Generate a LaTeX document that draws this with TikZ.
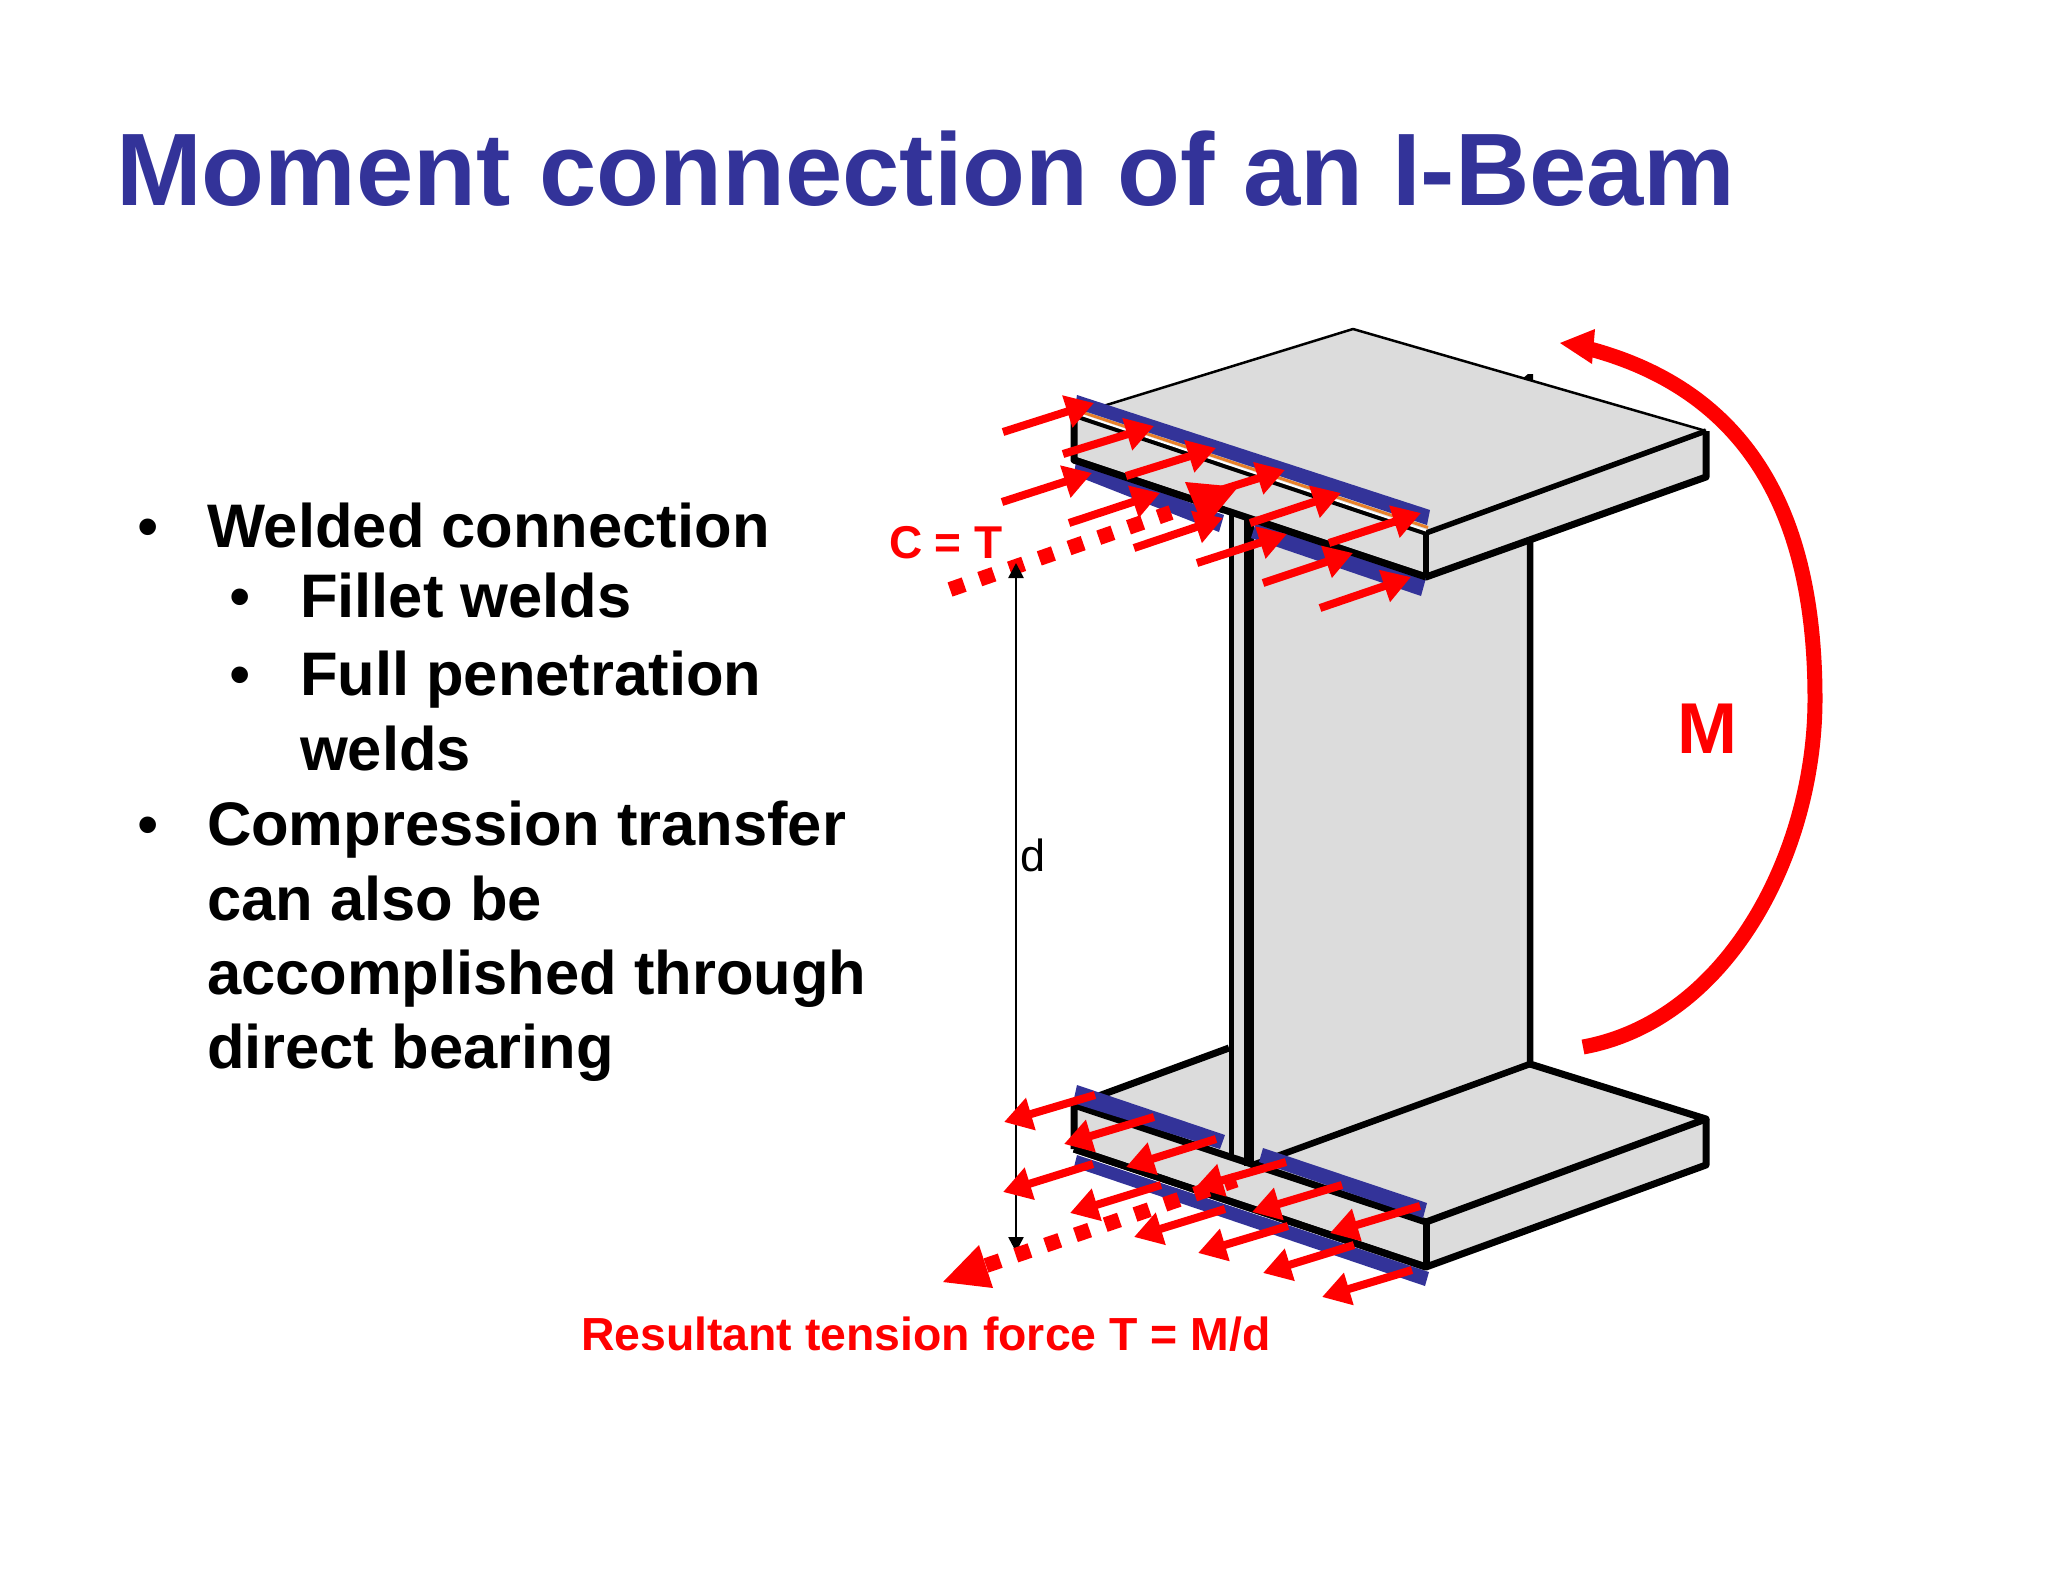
\documentclass[tikz,border=0pt]{standalone}
\usepackage{fontspec}
\setmainfont{Liberation Sans}
\usetikzlibrary{arrows.meta}
\definecolor{titleblue}{HTML}{333399}
\definecolor{weldblue}{HTML}{333399}
\definecolor{steel}{HTML}{DCDCDC}
\definecolor{forcered}{HTML}{FF0000}
\definecolor{weldorange}{HTML}{E8802A}
\tikzset{
  thinedge/.style={draw=black,line width=2.5pt,line join=round},
  thickedge/.style={draw=black,line width=7pt,line join=round},
  steelface/.style={fill=steel},
  weldstrip/.style={fill=weldblue},
  force/.style={draw=forcered,line width=8pt,-{Triangle[length=28pt,width=32pt]}},
  dots/.style={draw=forcered,line width=15pt,dash pattern=on 15pt off 16.5pt},
  bighead/.style={fill=forcered},
  txt/.style={anchor=base west,inner sep=0pt,outer sep=0pt},
  body/.style={txt,font=\fontsize{61.5}{61.5}\selectfont\bfseries},
  bul/.style={anchor=base,inner sep=0pt,outer sep=0pt,font=\fontsize{61}{61}\selectfont},
}
\begin{document}
\begin{tikzpicture}[x=1pt,y=-1pt]
\useasboundingbox (0,0) rectangle (2048,1582);
% text
\node[txt,text=titleblue,font=\fontsize{103}{103}\selectfont\bfseries] (title) at (116,205) {Moment connection of an I-Beam};
\node[bul] (b1) at (148,547) {•};
\node[body] (l1) at (207,547) {Welded connection};
\node[bul] (b2) at (240,617) {•};
\node[body] (l2) at (300,617) {Fillet welds};
\node[bul] (b3) at (240,695) {•};
\node[body] (l3) at (300,695) {Full penetration};
\node[body] (l4) at (300,770) {welds};
\node[bul] (b4) at (148,845) {•};
\node[body] (l5) at (207,845) {Compression transfer};
\node[body] (l6) at (207,920) {can also be};
\node[body] (l7) at (207,994) {accomplished through};
\node[body] (l8) at (207,1068) {direct bearing};
% corners
\coordinate (ta) at (1353,329);
\coordinate (tr) at (1706,431);
\coordinate (trb) at (1706,477);
\coordinate (tf) at (1426,533);
\coordinate (tfb) at (1426,577);
\coordinate (tl) at (1074,415);
\coordinate (tlb) at (1074,460);
\coordinate (bl) at (1074,1105);
\coordinate (blb) at (1074,1149);
\coordinate (bf) at (1426,1222);
\coordinate (bfb) at (1426,1267);
\coordinate (br) at (1706,1119);
\coordinate (brb) at (1706,1165);
\coordinate (bk) at (1530,1064);
\coordinate (bwl) at (1229,1048);
% bottom flange
\path[steelface] (bl)--(bwl)--(bk)--(br)--(brb)--(bfb)--(blb)--cycle;
\draw[thickedge] (blb)--(bl)--(bwl);
\draw[thickedge] (bk)--(br)--(bf);
\draw[thickedge] (br)--(brb)--(bfb)--(blb);
\draw[thickedge] (bf)--(bfb);
% web
\path[steelface] (1229,500)--(1530,530)--(bk)--(1253,1165)--(1229,1157)--cycle;
\draw[draw=black,line width=5.5pt] (1231.5,505)--(1231.5,1157);
\draw[draw=black,line width=10pt] (1249,505)--(1249,1166);
\draw[draw=black,line width=6.5pt] (1530,530)--(bk)--(1250,1166);
\draw[thickedge] (bl)--(bf);
% nub behind top flange
\fill[black] (1522,379)--(1528,374)--(1533,374)--(1533,383)--cycle;
% top flange
\path[steelface] (tl)--(ta)--(tr)--(trb)--(tfb)--(tlb)--cycle;
\draw[thinedge] (tl)--(ta)--(tr);
\draw[thickedge] (tr)--(trb)--(tfb)--(tlb)--(tl);
\draw[draw=black,line width=5.5pt] (tl)--(tf)--(tr);
\draw[draw=black,line width=5.5pt] (tf)--(tfb);
% welds, top
\draw[draw=white,line width=2pt] (1077,413.5)--(1426,530.5);
\draw[draw=weldorange,line width=3pt] (1077,410.5)--(1428,527.5);
\path[weldstrip] (1077,395)--(1430,510)--(1427,525)--(1075,408)--cycle;
\path[weldstrip] (1076,461)--(1224,515)--(1219,532)--(1074,475)--cycle;
\path[weldstrip] (1256,522)--(1426,578)--(1421,596)--(1251,538)--cycle;
\draw[thickedge] (tlb)--(1224,510);
\draw[thickedge] (1255,520)--(tfb);
% dimension d, its upper tip over the dots of the upper resultant
\draw[dots] (950,589.5)--(1171,512.5);
\coordinate (dtop) at (1016,563);
\coordinate (dbot) at (1016,1252);
\draw[draw=black,line width=2.5pt,{Triangle[length=15pt,width=15pt]}-{Triangle[length=15pt,width=15pt]}] (dtop)--(dbot);
\node[txt,font=\fontsize{45}{45}\selectfont] (dlabel) at (1020,871) {d};
% welds, bottom
\path[weldstrip] (1077,1085)--(1225,1135)--(1220,1149)--(1073,1103)--cycle;
\path[weldstrip] (1263,1148)--(1427,1203)--(1423,1218)--(1259,1162)--cycle;
\path[weldstrip] (1077,1155)--(1429,1272)--(1425,1286)--(1074,1167)--cycle;
\draw[thickedge] (blb)--(bfb);
% top force arrows
\foreach \xa/\ya/\xb/\yb in {
  1003/432/1094/403, 1063/454/1154/426, 1126/476/1216/448,
  1195/498/1285/470, 1250/523/1341/493, 1329/543/1421/513,
  1002/502/1092/473, 1069/523/1160/493, 1134/548/1223/518,
  1197/563/1287/534, 1263/583/1353/553, 1320/608/1411/577}
  \draw[force] (\xa,\ya)--(\xb,\yb);
\path[bighead] (1185,482)--(1238,487)--(1204,528)--cycle;
% bottom force arrows
\foreach \xa/\ya/\xb/\yb in {
  1095/1095/1004/1122, 1154/1117/1064/1144, 1216/1139/1126/1167,
  1286/1162/1195/1188, 1342/1185/1252/1212, 1420/1206/1330/1233,
  1093/1164/1003/1192, 1161/1185/1070/1213, 1225/1209/1134/1237,
  1288/1226/1198/1253, 1354/1245/1263/1273, 1412/1270/1322/1297}
  \draw[force] (\xa,\ya)--(\xb,\yb);
\draw[dots] (986,1265.5)--(1236,1180);
\path[bighead] (943,1282)--(979,1245)--(993,1288)--cycle;
% moment arc
\draw[draw=forcered,line width=15pt] (1583,1047) .. controls (1730,1020) and (1815,850) .. (1815,699) .. controls (1815,530) and (1760,395) .. (1590,349);
\path[bighead] (1560,343)--(1595,329)--(1592,364)--cycle;
% labels
\node[txt,text=forcered,font=\fontsize{46}{46}\selectfont\bfseries] (cT) at (889,558) {C = T};
\node[txt,text=forcered,font=\fontsize{72}{72}\selectfont\bfseries] (mM) at (1677,753) {M};
\node[txt,text=forcered,font=\fontsize{46.4}{46.4}\selectfont\bfseries] (res) at (581,1350) {Resultant tension force T = M/d};
\end{tikzpicture}
\end{document}
